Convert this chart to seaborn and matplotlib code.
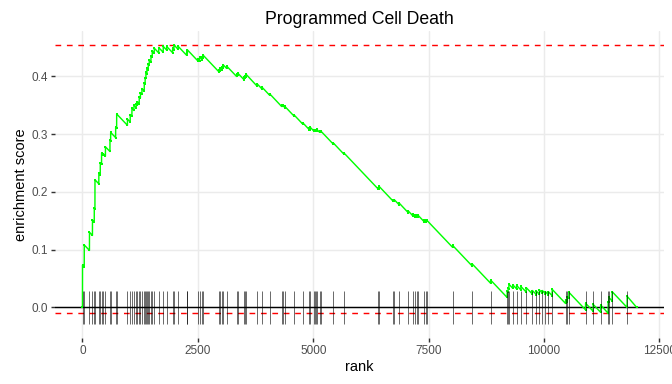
import numpy as np
import pandas as pd
import matplotlib
matplotlib.use("Agg")
import matplotlib.pyplot as plt
import seaborn as sns

# ---- data ----
title = "Programmed Cell Death"
n_genes = 12003

hit_rank = [1, 39, 152, 217, 256, 271, 355, 386, 414, 451, 498, 596, 611, 719, 741,
            975, 1035, 1072, 1115, 1165, 1191, 1230, 1256, 1289, 1339, 1358, 1375, 1397,
            1425, 1447, 1484, 1512, 1555, 1653, 1750, 1824, 1954, 1982, 2075, 2257, 2274,
            2495, 2539, 2595, 2617, 2957, 2978, 3028, 3050, 3123, 3340, 3362, 3498, 3520,
            3541, 3786, 3882, 4055, 4315, 4336, 4386, 4588, 4770, 4912, 4934, 5014, 5036,
            5058, 5079, 5138, 5159, 5437, 5664, 6407, 6429, 6732, 6754, 6856, 7057, 7152,
            7209, 7239, 7273, 7403, 7434, 7455, 8019, 8443, 8842, 9201, 9221, 9238, 9322,
            9405, 9498, 9613, 9747, 9834, 9899, 9964, 10029, 10094, 10176, 10466, 10505,
            10538, 10899, 11064, 11226, 11389, 11404, 11475, 11800]

es_bottom = [0.000, 0.070, 0.0985, 0.1245, 0.148, 0.1707, 0.2139, 0.2295, 0.2476, 0.264,
             0.262, 0.270, 0.289, 0.294, 0.310,
             0.3153, 0.321, 0.331, 0.341, 0.346, 0.350, 0.353, 0.363, 0.369, 0.375, 0.3875,
             0.3965, 0.405, 0.4115, 0.419, 0.425, 0.4336, 0.440, 0.4408, 0.4418, 0.4458,
             0.4411, 0.4466, 0.4468, 0.4367, 0.4405,
             0.4274, 0.4274, 0.4293, 0.4315, 0.408, 0.410, 0.411, 0.415, 0.414, 0.400, 0.402,
             0.3945, 0.397, 0.399, 0.383, 0.379, 0.3675, 0.348, 0.348, 0.346, 0.331, 0.3177,
             0.308, 0.308, 0.3053, 0.3055, 0.3057, 0.306, 0.3033, 0.3035, 0.2825, 0.2654,
             0.205, 0.2057, 0.1838, 0.184, 0.178, 0.164, 0.159, 0.1573, 0.1572, 0.1568,
             0.1483, 0.148, 0.1487, 0.1039, 0.0715, 0.0417, 0.017, 0.0265, 0.0325, 0.033,
             0.032, 0.030, 0.0265, 0.023, 0.022, 0.0225, 0.0245, 0.0235, 0.0215, 0.020,
             0.0066, 0.0097, 0.0153, -0.0044, -0.0068, -0.0087, -0.0104, 0.0087, 0.011,
             -0.0003]

es_top = [0.073, 0.108, 0.130, 0.151, 0.172, 0.221, 0.232, 0.250, 0.267, 0.266,
          0.278, 0.290, 0.303, 0.312, 0.335,
          0.326, 0.334, 0.345, 0.350, 0.352, 0.356, 0.365, 0.372, 0.379, 0.389, 0.398,
          0.407, 0.414, 0.421, 0.428, 0.436, 0.444, 0.449, 0.450, 0.452, 0.452,
          0.449, 0.4546, 0.452, 0.442, 0.446,
          0.431, 0.434, 0.433, 0.4366, 0.412, 0.415, 0.417, 0.420, 0.418, 0.404, 0.406,
          0.399, 0.401, 0.404, 0.387, 0.382, 0.370, 0.350, 0.350, 0.348, 0.333, 0.320,
          0.310, 0.312, 0.3073, 0.3075, 0.3077, 0.3082, 0.3053, 0.3058, 0.2845, 0.2675,
          0.2075, 0.2093, 0.1858, 0.1865, 0.181, 0.167, 0.162, 0.1598, 0.1597, 0.1592,
          0.1505, 0.1505, 0.1512, 0.1072, 0.0752, 0.0472, 0.028, 0.034, 0.040, 0.039,
          0.038, 0.036, 0.034, 0.029, 0.028, 0.030, 0.029, 0.027, 0.027, 0.031,
          0.013, 0.018, 0.026, 0.007, 0.005, 0.004, 0.010, 0.017, 0.027,
          0.019]

x_ticks = [0, 2500, 5000, 7500, 10000, 12500]
y_ticks = [0.0, 0.1, 0.2, 0.3, 0.4]

# ---- build running-sum table (as fgsea plotEnrichment does) ----
xs, ys = [0], [0.0]
for r, b, t in zip(hit_rank, es_bottom, es_top):
    xs += [r - 1, r]
    ys += [b, t]
xs.append(n_genes + 1)
ys.append(0.0)
curve = pd.DataFrame({"rank": xs, "es": ys})

es_max = max(es_top)
es_min = min(es_bottom)
diff = (es_max - es_min) / 8

sns.set_theme(style="whitegrid")
plt.rcParams["font.family"] = ["Liberation Sans", "DejaVu Sans"]

fig = plt.figure(figsize=(7, 4), dpi=96)
ax = fig.add_axes([0.0815, 0.1198, 0.9070, 0.7995])

lw = 1.07
ax.set_axisbelow(True)
ax.grid(True, color="#EBEBEB", linewidth=lw)
for s in ax.spines.values():
    s.set_visible(False)

# points and line
sns.scatterplot(data=curve, x="rank", y="es", ax=ax, color="#00FF00", s=3,
                marker="s", linewidth=0, zorder=3)
ax.axhline(es_max, color="red", linestyle=(0, (4, 4)), linewidth=lw, zorder=2)
ax.axhline(es_min, color="red", linestyle=(0, (4, 4)), linewidth=lw, zorder=2)
ax.axhline(0, color="black", linewidth=lw, zorder=2)
sns.lineplot(data=curve, x="rank", y="es", ax=ax, color="#00FF00", linewidth=lw,
             estimator=None, sort=False, zorder=4)
ax.vlines(hit_rank, -diff / 2, diff / 2, color="black", linewidth=0.43, zorder=5)

xmin, xmax = 0, n_genes + 1
xr = xmax - xmin
ymin, ymax = min(es_min, -diff / 2), max(es_max, diff / 2)
yr = ymax - ymin
ax.set_xlim(xmin - 0.05 * xr, xmax + 0.05 * xr)
ax.set_ylim(ymin - 0.05 * yr, ymax + 0.05 * yr)

ax.set_xticks(x_ticks)
ax.set_xticklabels([str(v) for v in x_ticks])
ax.set_yticks(y_ticks)
ax.set_yticklabels([f"{v:.1f}" for v in y_ticks])
ax.tick_params(axis="both", which="major", length=2.75, width=lw, color="#333333",
               labelsize=8.8, labelcolor="#4D4D4D", pad=2.2, bottom=True, left=True)

ax.set_xlabel("rank", fontsize=11, color="black", labelpad=2.75)
ax.set_ylabel("enrichment score", fontsize=11, color="black", labelpad=2.75)
ax.set_title(title, fontsize=13.2, color="black", pad=5.5)

fig.savefig("out.png", dpi=96)
